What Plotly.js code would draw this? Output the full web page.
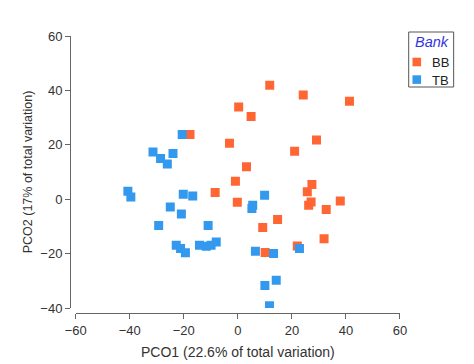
<!DOCTYPE html>
<html>
<head>
<meta charset="utf-8">
<script src="https://cdn.plot.ly/plotly-3.0.1.min.js"></script>
<style>
html,body{margin:0;padding:0;background:#fff;}
#chart{width:474px;height:364px;}
</style>
</head>
<body>
<div id="chart"></div>
<script>
// Bank BB (orange)
const bbX = [-17.7, -3.1, 0.3, 11.8, 24.2, 41.3, 4.9, 29.1, 21.0, 3.2, -0.9, -8.4, -0.2, 27.4, 25.7, 27.1, 26.2, 32.7, 37.9, 14.7, 9.2, 31.9, 10.1, 22.0];
const bbY = [23.8, 20.6, 33.9, 41.9, 38.3, 36.0, 30.4, 21.8, 17.6, 11.9, 6.6, 2.5, -1.1, 5.4, 2.7, -1.0, -2.2, -3.8, -0.7, -7.5, -10.4, -14.5, -19.6, -17.2];
// Bank TB (blue)
const tbX = [-20.6, -31.4, -28.6, -24.0, -26.1, -40.7, -39.6, -20.2, -16.7, -25.0, -20.9, -29.3, -11.0, -22.8, -21.2, -19.4, -14.2, -11.7, -9.9, -8.0, 9.9, 5.5, 5.2, 6.5, 13.2, 22.8, 14.2, 10.0, 11.7];
const tbY = [23.8, 17.4, 15.0, 16.8, 12.9, 2.9, 0.8, 1.8, 1.2, -2.9, -5.4, -9.7, -9.7, -16.9, -18.1, -19.7, -16.9, -17.3, -16.9, -15.7, 1.5, -2.2, -3.4, -19.1, -20.0, -18.1, -29.8, -31.7, -39.2];
const xTicks = [-60, -40, -20, 0, 20, 40, 60];
const yTicks = [-40, -20, 0, 20, 40, 60];
const seriesNames = ['BB', 'TB'];
const seriesColors = ['#FF6633', '#3399EE'];
const legendTitle = 'Bank';

const font = 'Liberation Sans, Arial, sans-serif';
const W = 474, H = 364;
const M = {l: 70, r: 73.7, t: 35.7, b: 51.3};
const PW = W - M.l - M.r, PH = H - M.t - M.b;
// pixel -> paper helpers for the hand-built legend box
const px = v => (v - M.l) / PW;
const py = v => (H - M.b - v) / PH;

const traces = [
  {x: bbX, y: bbY, name: seriesNames[0], type: 'scatter', mode: 'markers',
   marker: {symbol: 'square', size: 9, color: seriesColors[0]}},
  {x: tbX, y: tbY, name: seriesNames[1], type: 'scatter', mode: 'markers',
   marker: {symbol: 'square', size: 9, color: seriesColors[1]}}
];
const axisCommon = {
  showline: true, linecolor: '#666', linewidth: 1,
  ticks: 'outside', ticklen: 5, tickcolor: '#666', tickwidth: 1,
  showgrid: false, zeroline: false,
  tickfont: {family: font, size: 13, color: '#333'},
  anchor: 'free', position: 0
};

const shapes = [
  {type: 'rect', xref: 'paper', yref: 'paper', x0: px(409), x1: px(454), y0: py(86.7), y1: py(31.7),
   line: {color: '#555', width: 1}, fillcolor: 'rgba(0,0,0,0)'}
];
const annotations = [
  {xref: 'paper', yref: 'paper', x: px(432.5), y: py(41.5), xanchor: 'center', yanchor: 'middle',
   text: '<i>' + legendTitle + '</i>', showarrow: false, font: {family: font, size: 14.5, color: '#3535E0'}}
];
const itemY = [61.7, 79.3];
seriesNames.forEach((n, i) => {
  shapes.push({type: 'rect', xref: 'paper', yref: 'paper',
    x0: px(412.8), x1: px(421.4), y0: py(itemY[i] + 4.3), y1: py(itemY[i] - 4.3),
    line: {width: 0}, fillcolor: seriesColors[i]});
  annotations.push({xref: 'paper', yref: 'paper', x: px(430.5), y: py(itemY[i] + 0.5), xanchor: 'left', yanchor: 'middle',
    text: n, showarrow: false, font: {family: font, size: 13, color: '#222'}});
});

const layout = {
  width: W, height: H,
  margin: {l: M.l, r: M.r, t: M.t, b: M.b, pad: 0},
  paper_bgcolor: '#fff', plot_bgcolor: '#fff',
  font: {family: font, color: '#333'},
  xaxis: Object.assign({}, axisCommon, {
    domain: [0.0173, 1], range: [-60, 60], tickvals: xTicks,
    title: {text: 'PCO1 (22.6% of total variation)', font: {family: font, size: 14, color: '#333'}, standoff: 10}
  }),
  yaxis: Object.assign({}, axisCommon, {
    domain: [0.018, 1], range: [-40, 60], tickvals: yTicks,
    title: {text: 'PCO2 (17% of total variation)', font: {family: font, size: 12.5, color: '#333'}, standoff: 3}
  }),
  showlegend: false,
  shapes: shapes,
  annotations: annotations
};
Plotly.newPlot('chart', traces, layout, {displayModeBar: false, staticPlot: true});
</script>
</body>
</html>
